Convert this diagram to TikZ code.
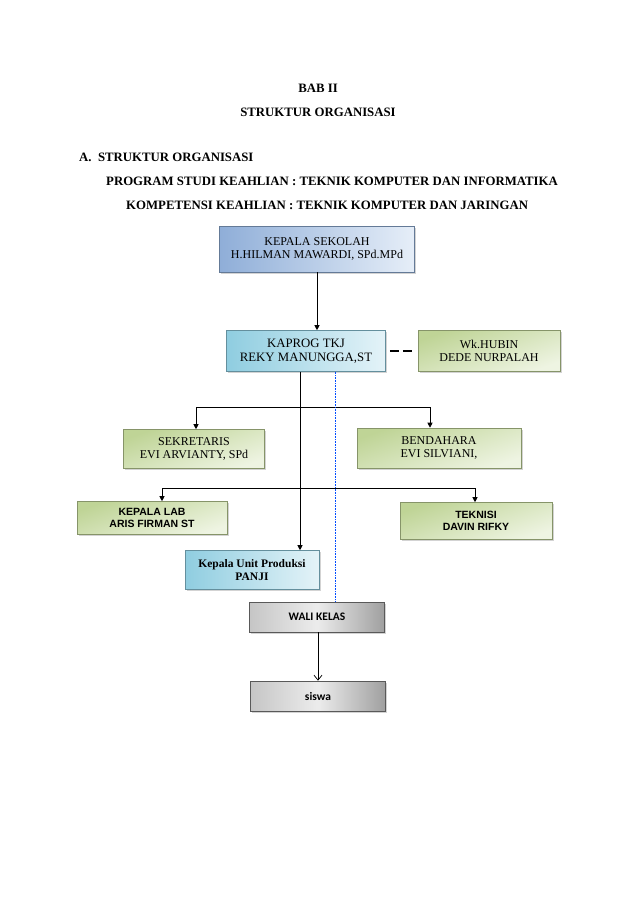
\documentclass[tikz,border=0pt]{standalone}
\usepackage{fontspec}
\setmainfont{Liberation Serif}
\newfontfamily\arialf{Liberation Sans}
\newfontfamily\calf{Carlito}
\usetikzlibrary{arrows.meta,shadows}
\definecolor{gA}{HTML}{BFD496}
\definecolor{gB}{HTML}{EEF4E2}
\definecolor{bA}{HTML}{8FAED8}
\definecolor{bB}{HTML}{E6EEF8}
\definecolor{cA}{HTML}{8FCDE0}
\definecolor{cB}{HTML}{E4F3F8}
\tikzset{
  box/.style={draw=#1!70!black, line width=0.6pt, inner sep=0pt, align=center, drop shadow={opacity=0.35,shadow xshift=1.5pt,shadow yshift=-1.5pt}},
  green/.style={box=gA, top color=gA, bottom color=gB, shading angle=20, font=\fontsize{12}{13.5}\selectfont},
  greens/.style={green, font=\arialf\bfseries\fontsize{10.5}{12}\selectfont},
  blue/.style={box=bA, left color=bA, right color=bB, font=\fontsize{12}{13.5}\selectfont},
  cyan/.style={box=cA, left color=cA, right color=cB, font=\fontsize{12}{13.5}\selectfont},
  grey/.style={box=gray, top color=gray!45, bottom color=gray!75, middle color=gray!15, shading angle=90, font=\calf\bfseries\fontsize{11.5}{12}\selectfont},
  conn/.style={line width=0.7pt, -{Triangle[length=5pt,width=5pt]}},
  title/.style={font=\bfseries\fontsize{12.8}{14}\selectfont, inner sep=0pt}
}
\begin{document}
\begin{tikzpicture}[x=1pt,y=-1pt]
\useasboundingbox (0,0) rectangle (638,902);
\node[title] (t1) at (318,88) {BAB II};
\node[title] (t2) at (318,112) {STRUKTUR ORGANISASI};
\node[title,anchor=west] (t3) at (79,157) {A.\ \ STRUKTUR ORGANISASI};
\node[title,anchor=west] (t4) at (106,181) {PROGRAM STUDI KEAHLIAN : TEKNIK KOMPUTER DAN INFORMATIKA};
\node[title,anchor=west] (t5) at (126,205) {KOMPETENSI KEAHLIAN : TEKNIK KOMPUTER DAN JARINGAN};

\node[blue,minimum width=195,minimum height=46] (ks) at (317,249) {KEPALA SEKOLAH\\H.HILMAN MAWARDI, SPd.MPd};
\node[cyan,minimum width=159,minimum height=41,font=\fontsize{12.8}{14}\selectfont] (kp) at (306,351) {KAPROG TKJ\\REKY MANUNGGA,ST};
\node[green,minimum width=142,minimum height=41] (wk) at (489,351) {Wk.HUBIN\\DEDE NURPALAH};
\node[green,minimum width=141,minimum height=39] (sk) at (194,449) {SEKRETARIS\\EVI ARVIANTY, SPd};
\node[green,minimum width=164,minimum height=40] (bd) at (439,448) {BENDAHARA\\EVI SILVIANI,};
\node[greens,minimum width=150,minimum height=33] (kl) at (152,518) {KEPALA LAB\\ARIS FIRMAN ST};
\node[greens,minimum width=152,minimum height=37] (tk) at (476,521) {TEKNISI\\DAVIN RIFKY};
\node[cyan,minimum width=134,minimum height=39,font=\bfseries\fontsize{11.5}{13}\selectfont] (ku) at (252,570) {Kepala Unit Produksi\\PANJI};
\node[grey,minimum width=135,minimum height=30] (wl) at (317,617) {WALI KELAS};
\node[grey,minimum width=135,minimum height=30] (sw) at (318,696) {siswa};

\coordinate (j1) at (300,407);
\coordinate (j2) at (300,488);
\draw[conn] (ks) -- (kp.north -| ks);
\draw[line width=2.2pt, dash pattern=on 9pt off 4pt] (kp.east) ++(4,0) -- ([xshift=-4pt]wk.west);
\draw[line width=0.7pt] (kp.south -| j1) -- (j1);
\draw[conn] (j1) -| (sk.north -| 196,0);
\draw[conn] (j1) -| (bd.north -| 430,0);
\draw[conn] (j1) -- (ku.north -| j1);
\draw[conn] (j2) -| (kl.north -| 162,0);
\draw[conn] (j2) -| (tk.north -| 475,0);
\draw[blue!70!cyan, densely dotted, line width=0.6pt] (kp.south -| 335,0) -- (wl.north -| 335,0);
\draw[line width=0.7pt, -{Straight Barb[length=5pt,width=8pt]}] (wl.south -| 318,0) -- (sw.north -| 318,0);
\end{tikzpicture}
\end{document}
